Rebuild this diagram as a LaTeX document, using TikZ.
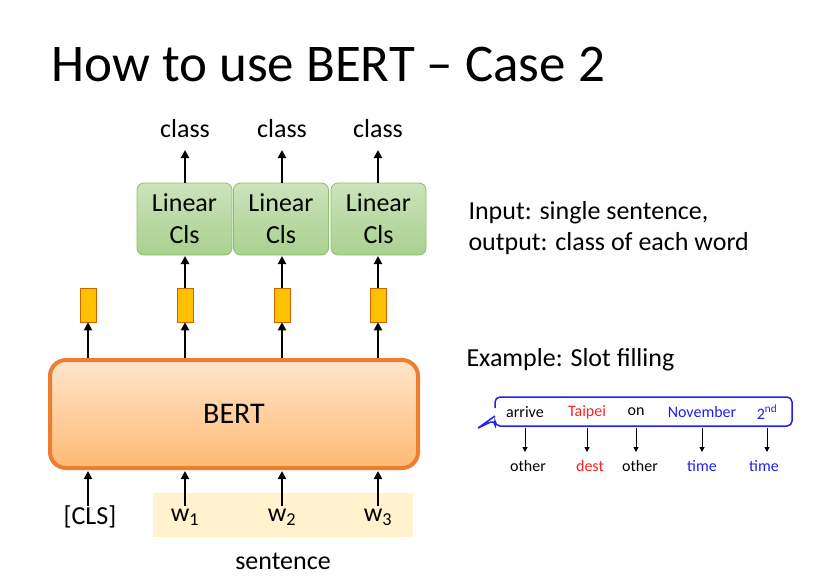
\documentclass[tikz,border=0pt]{standalone}
\usepackage{fontspec}
\setmainfont{Carlito}
\usetikzlibrary{arrows.meta}
\definecolor{borange}{HTML}{ED7D31}
\definecolor{gold}{HTML}{FFC000}
\definecolor{gfill}{HTML}{A9D18E}
\definecolor{gline}{HTML}{8CBF6A}
\definecolor{sband}{HTML}{FFF2CC}
\definecolor{sred}{HTML}{FF2020}
\definecolor{sblue}{HTML}{2020F0}
\tikzset{
  arr/.style={-{Triangle[length=8pt,width=8pt]},line width=2.2pt},
  sarr/.style={-{Triangle[length=5pt,width=5pt]},line width=1pt},
  emb/.style={draw=orange!80!black,fill=gold,minimum width=16pt,minimum height=34pt,inner sep=0pt,line width=0.6pt},
  lin/.style={draw=gline,top color=gfill!60,bottom color=gfill,rounded corners=7pt,minimum width=95pt,minimum height=72pt,align=center,font=\fontsize{26}{32}\selectfont,line width=0.8pt},
  lab/.style={font=\fontsize{26}{30}\selectfont},
  small/.style={font=\fontsize{16}{18}\selectfont}
}
\begin{document}
\begin{tikzpicture}[x=1pt,y=-1pt]
\useasboundingbox (0,0) rectangle (830,576);
\node[anchor=west,font=\fontsize{53}{60}\selectfont] (title) at (48,64) {How to use BERT -- Case 2};
\node[draw=borange,line width=4pt,rounded corners=16pt,top color=orange!20,bottom color=orange!55,minimum width=368pt,minimum height=108pt,font=\fontsize{30}{34}\selectfont] (bert) at (234,414) {BERT};
\fill[sband] (153,493) rectangle (413,537);
\node[lab] (cls) at (90,517) {[CLS]};
\node[lab] (w1) at (185,517) {w\textsubscript{1}};
\node[lab] (w2) at (282,517) {w\textsubscript{2}};
\node[lab] (w3) at (378,517) {w\textsubscript{3}};
\node[lab] (sent) at (283,561) {sentence};
\foreach \n/\x in {c/88,a/185,b/282,d/378}{
  \coordinate (in\n) at (\x,506);
  \draw[arr] (in\n) -- (\x,471);
  \node[emb] (e\n) at (\x,305) {};
  \draw[arr] (\x,358) -- (e\n.south);
}
\node[lin] (l1) at (184.5,219) {Linear\\Cls};
\node[lin] (l2) at (281,219) {Linear\\Cls};
\node[lin] (l3) at (378.5,219) {Linear\\Cls};
\foreach \e/\l/\x in {a/l1/185,b/l2/282,d/l3/378}{
  \draw[arr] (e\e.north) -- (\x,256);
  \node[lab] (c\l) at (\x,129) {class};
  \draw[arr] (\x,183) -- (\x,150);
}
\node[anchor=west,lab] (t1) at (465,213) {Input: single sentence,};
\node[anchor=west,lab] (t2) at (465,244) {output: class of each word};
\node[anchor=west,lab] (t3) at (463,360) {Example: Slot filling};
\draw[sblue,line width=1.5pt,fill=white,rounded corners=5pt] (495,408) -- (495,397) -- (792,397) -- (792,426) -- (495,426) -- (495,420) [sharp corners] -- (478,428) -- (495,416);
\foreach \w/\x/\c/\lb/\lx/\lc/\nm in {arrive/525/black/other/528/black/a,Taipei/587/sred/dest/590/sred/b,on/636/black/other/640/black/c,November/702/sblue/time/702/sblue/d,2\textsuperscript{nd}/767/sblue/time/764/sblue/e}{
  \node[small,text=\c] (s\nm) at (\x,412) {\w};
  \node[small,text=\lc] (o\nm) at (\lx,466) {\lb};
  \draw[sarr] (\x,428) -- (\x,452);
}
\end{tikzpicture}
\end{document}
